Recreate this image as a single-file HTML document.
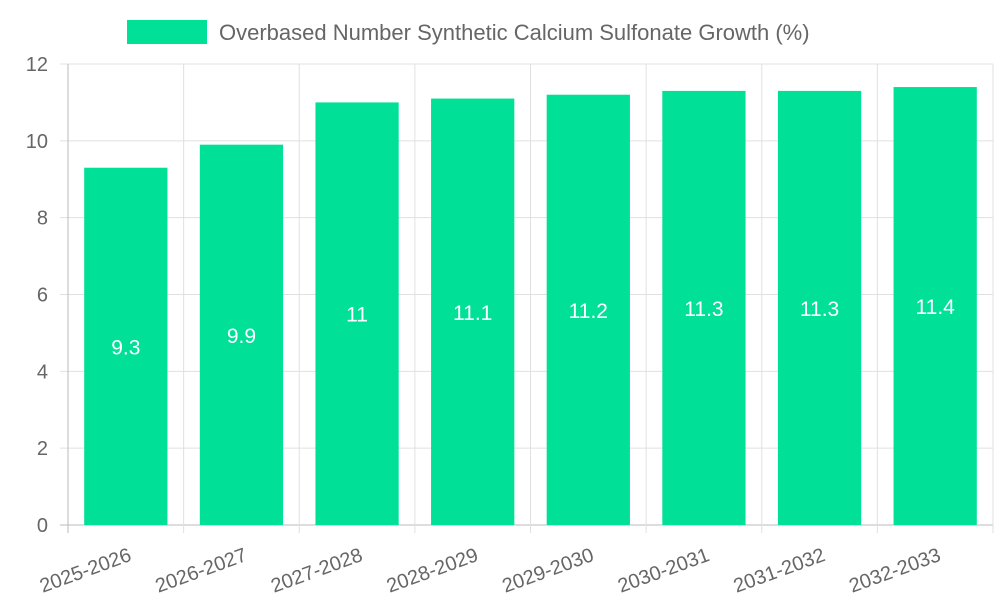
<!DOCTYPE html>
<html><head><meta charset="utf-8"><style>
body{margin:0;background:#fff;}
svg text{font-family:"Liberation Sans",sans-serif;}
</style></head><body>
<svg id="chart" width="1000" height="600">
<rect x="127" y="20" width="80" height="24" fill="#00e096"/>
<text x="219" y="40" font-size="22" fill="#666">Overbased Number Synthetic Calcium Sulfonate Growth (%)</text>
<g id="grid"></g><g id="bars"></g><g id="labels"></g>
</svg>
<script>
const categories=["2025-2026","2026-2027","2027-2028","2028-2029","2029-2030","2030-2031","2031-2032","2032-2033"];
const values=[9.3,9.9,11,11.1,11.2,11.3,11.3,11.4];
const yTicks=[0,2,4,6,8,10,12];
const L=68,R=993,T=64,B=525,yMax=12;
const NS="http://www.w3.org/2000/svg";
const bw=(R-L)/categories.length;
const y=v=>B-(v/yMax)*(B-T);
const x=i=>L+i*bw;
function mk(tag,attrs,parent,txt){const e=document.createElementNS(NS,tag);for(const k in attrs)e.setAttribute(k,attrs[k]);if(txt!==undefined)e.textContent=txt;document.getElementById(parent).appendChild(e);return e;}
yTicks.forEach(t=>{
 const g=mk("line",{x1:L-8,x2:R,y1:y(t),y2:y(t),stroke:t===0?"#bbb":"#e0e0e0","stroke-width":1},"grid");
 
 
 const tx=mk("text",{x:L-20,y:y(t)+7,"font-size":20,fill:"#666","text-anchor":"end"},"labels",t);
 
 
});
for(let i=0;i<=categories.length;i++){
 const g=mk("line",{x1:x(i),x2:x(i),y1:T,y2:B+8,stroke:i===0?"#bbb":"#e0e0e0","stroke-width":1},"grid");
 
 
}
categories.forEach((c,i)=>{
 const cx=x(i)+bw/2, w=bw*0.72;
 const r=mk("rect",{x:cx-w/2,y:y(values[i]),width:w,height:B-y(values[i]),fill:"#00e096"},"bars");
 
 
 const v=mk("text",{x:cx,y:(y(values[i])+B)/2+8,"font-size":21,fill:"#fff","text-anchor":"middle"},"labels",values[i]);
 
 
 const lx=cx+2,ly=B+22;
 const t=mk("text",{x:lx,y:ly+14,"font-size":20,fill:"#666","text-anchor":"end",transform:`rotate(-20 ${lx} ${ly})`},"labels",c);
 
 
});
</script>
</body></html>
